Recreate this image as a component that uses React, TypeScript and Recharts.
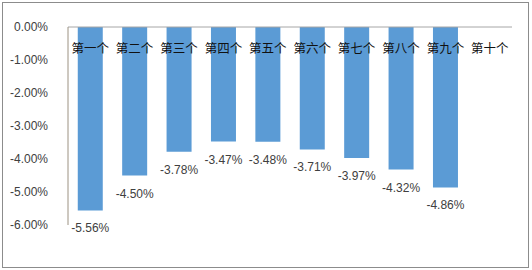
import { BarChart, Bar, XAxis, YAxis, LabelList } from 'recharts';

const categories = ['第一个', '第二个', '第三个', '第四个', '第五个', '第六个', '第七个', '第八个', '第九个', '第十个'];
const values: (number | null)[] = [-5.56, -4.5, -3.78, -3.47, -3.48, -3.71, -3.97, -4.32, -4.86, null];
const yTicks = [0, -1, -2, -3, -4, -5, -6];

const data = categories.map((name, i) => ({ name, value: values[i] }));

const LATIN = '"Liberation Sans", Arial, sans-serif';
const CJK = '"Noto Sans CJK SC", sans-serif';

// category names sit inside the plot, just under the zero line
const CategoryTick = (props: any) => {
  const { x, y, payload } = props;
  return (
    <text x={x} y={y + 26} textAnchor="middle" fontSize={12.5} fontFamily={CJK} fill="#111">
      {payload.value}
    </text>
  );
};

const ValueLabel = (props: any) => {
  const { x, y, width, height, value } = props;
  if (value == null) return null;
  const bottom = Math.max(y, y + height);
  return (
    <text x={x + width / 2} y={bottom + 22} textAnchor="middle" fontSize={12} fontFamily={LATIN} fill="#404040">
      {`${Number(value).toFixed(2)}%`}
    </text>
  );
};

export default function App() {
  return (
    <div style={{ position: 'absolute', left: 0, top: 0, width: 532, height: 270, background: '#fff' }}>
      <div
        style={{
          position: 'absolute',
          left: 2,
          top: 2,
          width: 525,
          height: 264,
          border: '1px solid #8c8c8c',
        }}
      />
      <BarChart
        width={532}
        height={270}
        data={data}
        margin={{ top: 17, right: 20, bottom: 45, left: 0 }}
        barCategoryGap="22%"
        style={{ position: 'absolute', left: 0, top: 0 }}
      >
        <XAxis
          dataKey="name"
          orientation="top"
          height={10}
          tickLine={false}
          tickSize={0}
          tickMargin={0}
          axisLine={{ stroke: '#a6a6a6' }}
          tick={<CategoryTick />}
          interval={0}
        />
        <YAxis
          domain={[-6, 0]}
          ticks={yTicks}
          width={68}
          tickLine={false}
          axisLine={{ stroke: '#9c9282' }}
          tickMargin={14}
          tick={{ fontSize: 12, fontFamily: LATIN, fill: '#404040' }}
          tickFormatter={(v: number) => `${v.toFixed(2)}%`}
          interval={0}
        />
        <Bar dataKey="value" fill="#5b9bd5" isAnimationActive={false}>
          <LabelList dataKey="value" content={<ValueLabel />} />
        </Bar>
      </BarChart>
    </div>
  );
}
